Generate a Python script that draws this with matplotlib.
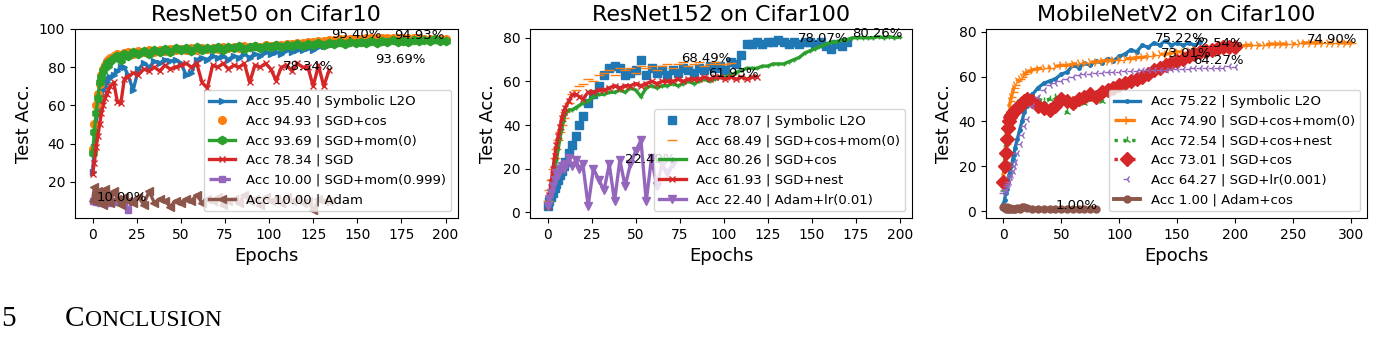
import matplotlib
matplotlib.use("Agg")
import matplotlib.pyplot as plt

# epoch grids (values sampled from the curves)
ep = [0, 1, 2, 3, 4, 5, 6, 7, 8, 9, 10, 12, 14, 16, 18, 20] + list(range(23, 201, 3))
ep3 = [0, 1, 2, 3, 4, 5, 6, 7, 8, 9, 10, 12, 14, 16, 18, 20] + list(range(25, 301, 5))

# ResNet50 on Cifar10
r50_l2o = [25, 38, 50, 58, 62, 66, 68, 70, 72, 74, 75, 76, 78, 80, 80, 76, 68, 79, 82, 80, 83, 82, 84, 83,
           84, 82, 76, 77, 84, 85, 84, 86, 85, 86, 84, 86, 85, 87, 85, 87, 86, 88, 87, 88, 87, 89, 88, 89,
           89, 90, 89, 90.5, 91, 91.5, 92, 92.5, 93, 93.5, 94, 94.5, 95, 95.2, 95.4]
r50_cos = [37, 50, 60, 66, 71, 76, 79, 81, 83, 84, 85, 86, 87, 86.5, 87.5, 88, 87, 88.5, 88, 89, 88, 89,
           88.5, 89.5, 89, 89.5, 89, 90, 89, 90, 89.5, 90, 89.5, 90.5, 90, 90.5, 90, 91, 90.5, 91, 90.5,
           91.5, 91, 91.5, 91.5, 92, 92, 92.5, 92.5, 93, 93, 93.5, 93.5, 94, 94, 94.5, 94.5, 95, 95, 95,
           95.5, 95.5, 95.5, 95.5, 95.5, 95.5, 95.5, 95.5, 95.5, 95.5, 95.5, 95, 95, 95, 95, 94.9]
r50_mom0 = [35, 46, 56, 64, 72, 75, 78, 80, 82, 81, 83, 85, 86, 84, 87, 86, 88, 87, 88.5, 87, 89, 88,
            89.5, 88, 90, 89, 90, 88.5, 90.5, 89, 90, 89.5, 90.5, 89, 90.5, 90, 91, 89.5, 90.5, 91, 90,
            91, 90.5, 91.5, 90.5, 91.5, 91, 92, 91, 92, 91.5, 92.5, 91.5, 92.5, 92, 93, 92, 93, 92.5, 93,
            92.5, 93.5, 92.5, 93.5, 93, 94, 93, 93.5, 93, 94, 93.5, 94, 93.5, 94.5, 93.5, 93.7]
r50_sgd = [24, 30, 38, 44, 50, 56, 60, 64, 66, 68, 70, 72, 62, 61, 74, 75, 77, 76, 79, 78, 80, 78, 81,
           79, 80, 81, 82, 80, 82, 72, 69, 81, 80, 82, 79, 81, 80, 82, 72, 81, 80, 82, 79, 73, 80, 81,
           78, 82, 80, 80, 70, 81, 70, 78.3]
r50_mom999 = [10, 10, 9.5, 10, 9, 10, 10, 9, 10, 10, 9, 10, 9.5, 10, 9, 5, 10]
r50_adam = [10, 17, 12, 15, 9, 14, 8, 16, 10, 13, 9, 15, 11, 8, 12, 10, 9, 12, 8, 15, 9, 11, 10, 7, 10,
            9, 11, 10, 13, 9, 11, 10, 12, 8, 10, 11, 9, 13, 10, 11, 8, 12, 10, 11, 9, 12, 10, 11, 9, 10,
            5, 11, 10, 10]

# ResNet152 on Cifar100
r152_l2o = [3, 5, 7, 9, 11, 13, 15, 17, 19, 21, 23, 27, 31, 35, 40, 44, 50, 54, 58, 63, 66, 67, 66, 63,
            64, 65, 70, 63, 66, 64, 65, 63, 65, 64, 66, 65, 64, 66, 65, 67, 66, 67, 65, 69, 68, 72, 77,
            77, 78, 77, 78, 78, 79, 78, 77, 78, 77, 78, 78, 77, 78, 76, 75, 77, 76, 78.1]
r152_cosmom = [5, 10, 15, 20, 25, 29, 33, 37, 40, 43, 46, 50, 54, 56, 58, 59, 61, 60, 63, 64, 65, 63, 66,
               65, 66, 64, 67, 66, 67, 65, 67, 68, 66, 68, 69, 67, 68, 69, 67, 68, 69, 68, 68, 68.5]
r152_cos = [2, 5, 9, 14, 19, 24, 29, 34, 38, 42, 45, 47, 47, 48, 49, 50, 51, 53, 54, 54, 55, 55, 56, 55,
            57, 56, 53, 57, 58, 57, 58, 58, 59, 58, 59, 60, 59, 60, 61, 60, 61, 62, 62, 63, 64, 65, 66,
            66, 66, 67, 67, 68, 68, 68, 69, 70, 71, 73, 74, 75, 76, 77, 78, 78, 79, 79, 80, 80, 80, 80,
            80, 80.5, 80, 80.5, 80, 80.3]
r152_nest = [3, 8, 14, 20, 26, 31, 35, 39, 43, 46, 48, 51, 54, 54, 53, 52, 55, 55, 56, 56, 57, 58, 57,
             58, 58, 59, 58, 59, 60, 59, 60, 60, 60, 61, 60, 61, 61, 61, 62, 61, 62, 62, 61, 62, 61, 62,
             61, 62, 62]
r152_adam = [3, 6, 9, 12, 15, 18, 17, 20, 21, 20, 22, 25, 21, 24, 20, 22, 3, 20, 15, 10, 22, 5, 24, 12,
             22, 28, 33, 5, 25, 12, 22, 18, 22]

# MobileNetV2 on Cifar100
mb_l2o = [3, 5, 8, 10, 13, 16, 18, 20, 23, 25, 28, 32, 36, 40, 44, 47, 52, 55, 57, 58, 59, 61, 62, 65,
          64, 66, 65, 67, 66, 68, 67, 69, 70, 72, 71, 74, 73, 75, 74, 76, 74, 75, 74, 75, 74, 75.2]
mb_cosmom = [15, 22, 30, 38, 42, 46, 49, 51, 53, 55, 56, 58, 59, 60, 61, 62, 63, 63.5, 64, 64, 64.5, 65,
             65, 65.5, 66, 66, 66.5, 66.5, 67, 67, 67.5, 67.5, 68, 68, 68.5, 68.5, 69, 69.5, 70, 70,
             70.5, 71, 71, 71.5, 72, 72, 72.5, 72.5, 73, 73, 73, 73.5, 73.5, 74, 74, 74, 74, 74.5, 74.5,
             74.5, 74.5, 74.5, 75, 75, 75, 75, 75, 75, 75, 75, 75, 74.9]
mb_cosnest = [10, 20, 30, 36, 40, 42, 44, 45, 46, 46, 47, 48, 48, 49, 48, 50, 50, 50, 49, 50, 51, 48, 44,
              47, 49, 48, 50, 51, 49, 52, 53, 55, 56, 58, 59, 61, 62, 64, 65, 66, 67, 68, 69, 70, 70,
              71, 71, 72, 72, 72.5, 72.5, 72.5]
mb_cos = [13, 20, 26, 32, 37, 40, 42, 43, 44, 44, 45, 46, 47, 48, 49, 50, 49, 47, 46, 45, 47, 50, 49, 48,
          50, 51, 52, 51, 53, 54, 55, 56, 57, 58, 59, 60, 61, 63, 64, 65, 66, 67, 68, 69, 70, 71, 71.5,
          72, 72.5, 73, 73, 73]
mb_lr = [8, 9, 10, 11, 12, 13, 15, 16, 18, 20, 22, 26, 30, 34, 38, 41, 47, 51, 54, 56, 57, 58, 59, 60,
         60.5, 61, 61, 61.5, 61.5, 62, 62, 62, 62.5, 62.5, 62.5, 63, 63, 63, 63, 63, 63.5, 63.5, 63.5,
         63.5, 64, 64, 64, 64, 64, 64, 64.5, 64.3]
mb_adam = [2, 1.5, 1, 2, 1, 1, 1.5, 1, 1, 1, 1, 1.5, 1, 2, 2, 1.5, 1, 1, 1, 1, 1, 1, 1, 1, 1, 1, 1, 1]

blue, orange, green, red, purple, brown = ["#1f77b4", "#ff7f0e", "#2ca02c", "#d62728", "#9467bd", "#8c564b"]

fig = plt.figure(figsize=(13.75, 3.54), dpi=100)
ax1 = fig.add_axes([0.0545, 0.3842, 0.2785, 0.5339])
ax2 = fig.add_axes([0.3855, 0.3842, 0.2778, 0.5339])
ax3 = fig.add_axes([0.7171, 0.3842, 0.2771, 0.5339])

lw = 2.4
ms = 5

# panel 1
ax1.plot(ep[:len(r50_l2o)], r50_l2o, "-", marker=">", color=blue, lw=lw, ms=ms, label="Acc 95.40 | Symbolic L2O")
ax1.plot(ep[:len(r50_cos)], r50_cos, "o", color=orange, ms=5.5, label="Acc 94.93 | SGD+cos")
ax1.plot(ep[:len(r50_mom0)], r50_mom0, "-", marker="h", color=green, lw=lw, ms=6, label="Acc 93.69 | SGD+mom(0)")
ax1.plot(ep[:len(r50_sgd)], r50_sgd, "-", marker="x", color=red, lw=lw, ms=ms, label="Acc 78.34 | SGD")
ax1.plot(ep[:len(r50_mom999)], r50_mom999, "-.", marker="s", color=purple, lw=lw, ms=ms, label="Acc 10.00 | SGD+mom(0.999)")
ax1.plot(ep[:len(r50_adam)], r50_adam, "-", marker="<", color=brown, lw=lw, ms=6, label="Acc 10.00 | Adam")
for txt, x, y in [("95.40%", 135, 95.4), ("94.93%", 171, 94.93), ("93.69%", 160, 82.2),
                  ("78.34%", 108, 78.34), ("10.00%", 2, 10.0)]:
    ax1.text(x, y, txt, fontsize=9.5)
ax1.set_xlim(-10, 207)
ax1.set_ylim(1, 100)
ax1.set_xticks([0, 25, 50, 75, 100, 125, 150, 175, 200])
ax1.set_yticks([20, 40, 60, 80, 100])
ax1.set_title("ResNet50 on Cifar10", fontsize=16)

# panel 2
ax2.plot(ep[:len(r152_l2o)], r152_l2o, "s", color=blue, ms=5.5, label="Acc 78.07 | Symbolic L2O")
ax2.plot(ep[:len(r152_cosmom)], r152_cosmom, "_", color=orange, ms=7, label="Acc 68.49 | SGD+cos+mom(0)")
ax2.plot(ep[:len(r152_cos)], r152_cos, "-", marker="+", color=green, lw=lw, ms=3, label="Acc 80.26 | SGD+cos")
ax2.plot(ep[:len(r152_nest)], r152_nest, "-", marker="x", color=red, lw=lw, ms=ms, label="Acc 61.93 | SGD+nest")
ax2.plot(ep[:len(r152_adam)], r152_adam, "-", marker="v", color=purple, lw=lw, ms=6, label="Acc 22.40 | Adam+lr(0.01)")
for txt, x, y in [("68.49%", 76, 68.8), ("61.93%", 91, 62.2), ("78.07%", 142, 78.07),
                  ("80.26%", 173, 80.26), ("22.40%", 44, 22.4)]:
    ax2.text(x, y, txt, fontsize=9.5)
ax2.set_xlim(-10, 207)
ax2.set_ylim(-2.6, 84)
ax2.set_xticks([0, 25, 50, 75, 100, 125, 150, 175, 200])
ax2.set_yticks([0, 20, 40, 60, 80])
ax2.set_title("ResNet152 on Cifar100", fontsize=16)

# panel 3
ax3.plot(ep3[:len(mb_l2o)], mb_l2o, "-", marker=".", color=blue, lw=lw, ms=ms, label="Acc 75.22 | Symbolic L2O")
ax3.plot(ep3[:len(mb_cosmom)], mb_cosmom, "-.", marker="4", color=orange, lw=lw, ms=7, label="Acc 74.90 | SGD+cos+mom(0)")
ax3.plot(ep3[:len(mb_cosnest)], mb_cosnest, ":", marker="2", color=green, lw=lw, ms=6, label="Acc 72.54 | SGD+cos+nest")
ax3.plot(ep3[:len(mb_cos)], mb_cos, ":", marker="D", color=red, lw=lw, ms=7, label="Acc 73.01 | SGD+cos")
ax3.plot(ep3[:len(mb_lr)], mb_lr, "3", color=purple, ms=6, label="Acc 64.27 | SGD+lr(0.001)")
ax3.plot(ep3[:len(mb_adam)], mb_adam, "-", marker="o", color=brown, lw=lw + 0.4, ms=ms, label="Acc 1.00 | Adam+cos")
for txt, x, y in [("75.22%", 131, 75.3), ("72.54%", 164, 73.2), ("73.01%", 136, 68.5),
                  ("64.27%", 164, 65.8), ("74.90%", 262, 74.9), ("1.00%", 45, 0.8)]:
    ax3.text(x, y, txt, fontsize=9.5)
ax3.set_xlim(-15, 314)
ax3.set_ylim(-3.1, 81.2)
ax3.set_xticks([0, 50, 100, 150, 200, 250, 300])
ax3.set_yticks([0, 20, 40, 60, 80])
ax3.set_title("MobileNetV2 on Cifar100", fontsize=16)

for ax in [ax1, ax2, ax3]:
    ax.set_xlabel("Epochs", fontsize=13)
    ax.set_ylabel("Test Acc.", fontsize=13)
    ax.tick_params(labelsize=10)
    ax.legend(loc="lower right", fontsize=9.5)

# section heading below the figure
base = 1 - 326 / 354
fig.text(1 / 1375, base, "5", family="Liberation Serif", fontsize=21)
fig.text(65 / 1375, base, "C", family="Liberation Serif", fontsize=21)
fig.text(85 / 1375, base, "ONCLUSION", family="Liberation Serif", fontsize=17)

fig.savefig("out.png", dpi=100)
